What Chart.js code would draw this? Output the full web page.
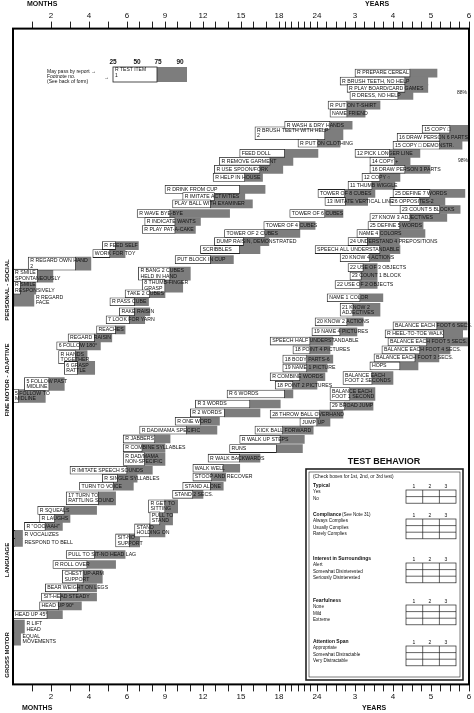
<!DOCTYPE html>
<html><head><meta charset="utf-8">
<script src="https://cdn.jsdelivr.net/npm/chart.js@4"></script>
<style>html,body{margin:0;padding:0;background:#fff}#wrap{width:474px;height:713px;position:relative}</style>
</head><body><div id="wrap"><canvas id="c"></canvas></div>
<script>
// Item labels (Denver II), row position (half-row grid), ages in months at 25%, 75%, 90% pass
const itemLabels = [
"R PREPARE CEREAL","R BRUSH TEETH, NO HELP","R PLAY BOARD/CARD GAMES","R DRESS, NO HELP","R PUT ON T-SHIRT","NAME FRIEND","R WASH & DRY HANDS","R BRUSH TEETH WITH HELP\n2","R PUT ON CLOTHING","FEED DOLL","R REMOVE GARMENT","R USE SPOON/FORK","R HELP IN HOUSE","R DRINK FROM CUP","R IMITATE ACTIVITIES","PLAY BALL WITH EXAMINER","R WAVE BYE-BYE","R INDICATE WANTS","R PLAY PAT-A-CAKE","R FEED SELF","WORK FOR TOY","R REGARD OWN HAND\n2","R SMILE\nSPONTANEOUSLY","R SMILE\nRESPONSIVELY","R REGARD\nFACE",
"15 COPY \u25A1","16 DRAW PERSON 6 PARTS","15 COPY \u25A1 DEMONSTR.","12 PICK LONGER LINE","14 COPY +","16 DRAW PERSON 3 PARTS","12 COPY \u25CB","11 THUMB WIGGLE","TOWER OF 8 CUBES","13 IMITATE VERTICAL LINE","TOWER OF 6 CUBES","TOWER OF 4 CUBES","TOWER OF 2 CUBES","DUMP RAISIN, DEMONSTRATED","SCRIBBLES","PUT BLOCK IN CUP","R BANG 2 CUBES\nHELD IN HAND","8 THUMB-FINGER\nGRASP","TAKE 2 CUBES","R PASS CUBE","RAKE RAISIN","7 LOOK FOR YARN","REACHES","REGARD RAISIN","6 FOLLOW 180\u00B0","R HANDS\nTOGETHER","6 GRASP\nRATTLE","5 FOLLOW PAST\nMIDLINE","5 FOLLOW TO\nMIDLINE",
"25 DEFINE 7 WORDS","26 OPPOSITES-2","23 COUNT 5 BLOCKS","27 KNOW 3 ADJECTIVES","25 DEFINE 5 WORDS","NAME 4 COLORS","24 UNDERSTAND 4 PREPOSITIONS","SPEECH ALL UNDERSTANDABLE","20 KNOW 4 ACTIONS","22 USE OF 3 OBJECTS","23 COUNT 1 BLOCK","22 USE OF 2 OBJECTS","NAME 1 COLOR","21 KNOW 2\nADJECTIVES","20 KNOW 2 ACTIONS","19 NAME 4 PICTURES","SPEECH HALF UNDERSTANDABLE","18 POINT 4 PICTURES","18 BODY PARTS-6","19 NAME 1 PICTURE","R COMBINE WORDS","18 POINT 2 PICTURES","R 6 WORDS","R 3 WORDS","R 2 WORDS","R ONE WORD","R DAD/MAMA SPECIFIC","R JABBERS","R COMBINE SYLLABLES","R DAD/MAMA\nNON-SPECIFIC","R IMITATE SPEECH SOUNDS","R SINGLE SYLLABLES","TURN TO VOICE","17 TURN TO\nRATTLING SOUND","R SQUEALS","R LAUGHS","R \"OOO/AAH\"","R VOCALIZES","RESPOND TO BELL",
"BALANCE EACH FOOT 6 SECS.","R HEEL-TO-TOE WALK","BALANCE EACH FOOT 5 SECS.","BALANCE EACH FOOT 4 SECS.","BALANCE EACH FOOT 3 SECS.","HOPS","BALANCE EACH\nFOOT 2 SECONDS","BALANCE EACH\nFOOT 1 SECOND","29 BROAD JUMP","28 THROW BALL OVERHAND","JUMP UP","KICK BALL FORWARD","R WALK UP STEPS","RUNS","R WALK BACKWARDS","WALK WELL","STOOP AND RECOVER","STAND ALONE","STAND 2 SECS.","R GET TO\nSITTING","PULL TO\nSTAND","STAND\nHOLDING ON","SIT-NO\nSUPPORT","PULL TO SIT-NO HEAD LAG","R ROLL OVER","CHEST UP-ARM\nSUPPORT","BEAR WEIGHT ON LEGS","SIT-HEAD STEADY","HEAD UP 90\u00B0","HEAD UP 45\u00B0","R LIFT\nHEAD","EQUAL\nMOVEMENTS"];
const itemRows = [2,4,5.8,7.6,10,12,15,17,19.5,22,24,26,28,31,32.8,34.6,37,39,41,45,47,49.5,52.5,55.5,58.5,
16,18,20,22,24,26,28,30,32,34,37,40,42,44,46,48.5,52,55,57,59,61.5,63.5,66,68,70,72.8,75.5,79.5,82.5,
32,34,36,38,40,42,44,46,48,50.5,52.6,54.7,58,61,64,66.5,68.8,71,73.3,75.5,77.7,79.8,82,84.5,86.7,88.8,91,93.2,95.4,98.2,101,103,105,108,111,113,115,117,119,
65,67,69,71,73,75,78,82,85,87,89,91,93.3,95.6,98,100.5,102.7,105,107,110,113,116,118.5,122,124.5,127.5,130.3,132.6,134.8,137,140,143];
const age25 = [36,31.3,33.5,34.4,27.5,28.1,18.9,16.1,21,14.9,13.3,12.9,12.8,9,10.4,9.6,6.8,7.4,7.2,4.7,4.2,0.8,0,0,0,
57.2,49.3,48,36,40.7,40.7,38.2,33.8,24.3,26.5,19.7,16.8,13.7,12.9,11.8,9.8,6.9,7.2,5.9,5.1,5.6,4.9,4.4,2.9,2.3,2.4,2.7,0.6,0,
48,47,50.2,40.7,40.1,36.6,33.8,23.7,31.3,33.8,34.4,29.7,27.2,31.3,23.7,23.2,17.3,20.2,18.6,18.6,17.3,17.7,13.9,11.4,11,9.8,7,5.8,5.8,5.8,3,4.7,3.5,2.8,1.3,1.4,0.6,0,0,
48,45.5,46.4,44.5,42,40.7,32.2,28.1,28.1,17.3,21.3,16.1,14.9,14.1,12.4,11.2,11.2,10.4,9.6,7.7,7.8,6.6,5.4,2.8,2.1,2.6,1.7,1.5,1.4,0,0,0];
const age75 = [53.4,51.8,51.8,49.6,33.5,33.5,28.1,26.5,24.3,18.9,17.3,16.5,15.3,14.9,12.9,12.6,9.4,9.8,9.8,5.4,5.1,3.3,1.3,0.4,0.05,
66,62.8,62.8,47,48.6,51.8,43.9,41.4,32.8,33,26.5,21.3,16.9,15.2,14.9,12.6,9.4,9,7.8,6.6,6.6,6.2,5.4,4.3,3.5,3.3,3.4,1.9,0.3,
59.7,56.5,62.8,53.4,50.2,43.9,40,43.9,40.7,38.6,38,37.6,37.6,35.4,33.5,31.3,22.9,22.9,22.4,22.4,21.3,20.2,18.9,15.7,13.7,11.8,10.7,8.2,7.2,7.4,6,5.5,5.3,4.5,2.7,2.2,1.7,0.1,0.1,
61.9,64,58.7,56.5,55,50.2,41.4,34.4,32.8,24.9,24,18.6,18.2,17.8,14.9,13.6,12.7,12.6,11.2,9,8.6,7.8,6.2,4.3,3.9,3.7,3.4,2.5,2.4,1.8,0.05,0.05];
const age90 = [61.9,59,59,54.3,43.9,39.2,35.1,32.2,31.3,24.3,20.2,18.6,16.7,16.9,15.3,15.9,14.1,11.8,11.4,6.9,5.9,4.1,2.1,1.2,1.1,
72,72,69.8,56.5,53.4,59.7,50.2,48.6,42.3,40,32.2,23.7,21.3,17.2,16.5,14.4,11,10.4,9,7.7,7.8,7.4,5.9,5.2,4.6,3.9,4.3,2.7,1.7,
70.7,64.4,69.2,65,57.5,58.1,50,50.2,47,43,43,43,44.8,43.9,38.6,36.6,29,28.1,29,27.2,26.5,24,20.2,18.2,16.5,13.3,13.1,9.4,9,9,8,6.8,6.5,5.4,4.4,3,2.6,0.5,0.5,
71.4,70,72,66,62.5,55.9,48,42.3,41.7,32.2,28.1,23.4,22,21.7,16.5,14.9,13.8,13.6,12,10,9.6,9,7,5.9,5.4,4.7,4.4,4.4,3.6,2.6,0.6,0.4];
const itemLines = itemLabels.map(s => s.includes("\n") ? 2 : 1);

const tickAges = [1,2,3,4,5,6,7,8,9,10,11,12,13,14,15,16,17,18,19,20,21,22,23,24,27,30,33,36,39,42,45,48,51,54,57,60,63,66,69,72];
const tickLabels = {2:"2",4:"4",6:"6",9:"9",12:"12",15:"15",18:"18",24:"24",36:"3",48:"4",60:"5",72:"6"};
const sectionNames = ["PERSONAL - SOCIAL","FINE MOTOR - ADAPTIVE","LANGUAGE","GROSS MOTOR"];

// piecewise age scale of the form
const knotsAge = [0,2,4,6,9,12,15,18,24,36,48,60,72];
function toU(a){for(let i=0;i<knotsAge.length-1;i++){if(a<=knotsAge[i+1]){return (i-1)+(a-knotsAge[i])/(knotsAge[i+1]-knotsAge[i]);}}return 11;}

function ds(lines, lo, hi, white){
  const d=[];
  itemLabels.forEach((l,i)=>{ if(itemLines[i]===lines){ d.push({x:[toU(lo[i]),toU(hi[i])], y:itemRows[i], i}); } });
  return {data:d, grouped:false, backgroundColor: white?'#fff':'#7d7d7d', borderColor: white?'#222':'#7d7d7d', borderWidth: white?0.8:0, borderSkipped:false, barThickness: lines===1?8:13, order: white?1:2};
}
const datasets=[ds(1,age75,age90,false),ds(2,age75,age90,false),ds(1,age25,age75,true),ds(2,age25,age75,true)];

const FONT='"Liberation Sans Narrow","Liberation Sans",Arial,sans-serif';
const deco={id:'deco',afterDatasetsDraw(ch){
  const c=ch.ctx,xs=ch.scales.x,ys=ch.scales.y,a=ch.chartArea;
  c.save();
  c.fillStyle='#111';c.textBaseline='middle';c.font='5.2px '+FONT;
  itemLabels.forEach((l,i)=>{
    let x=xs.getPixelForValue(toU(age25[i]))+2;
    if(age75[i]-age25[i]<0.3) x=xs.getPixelForValue(toU(age90[i]))+2;
    const y=ys.getPixelForValue(itemRows[i]); const parts=l.split("\n");
    parts.forEach((p,k)=>c.fillText(p,x,y+(k-(parts.length-1)/2)*5.3));
  });
  // frame
  c.strokeStyle='#000';c.lineWidth=2;c.strokeRect(a.left,a.top,a.right-a.left,a.bottom-a.top);
  // axis titles
  c.font='bold 7px '+FONT;c.textBaseline='alphabetic';
  c.fillText('MONTHS',27,6);c.fillText('YEARS',365,6);
  c.fillText('MONTHS',22,710);c.fillText('YEARS',362,710);
  // section titles
  c.font='bold 6px '+FONT;c.textAlign='center';
  [[290,sectionNames[0]],[380,sectionNames[1]],[560,sectionNames[2]],[655,sectionNames[3]]].forEach(([y,t])=>{c.save();c.translate(7,y);c.rotate(-Math.PI/2);c.fillText(t,0,2);c.restore();});
  // percent notes
  c.font='5px '+FONT;c.fillText('88%',462,94);c.fillText('98%',463,162);
  // legend
  c.font='bold 6.5px '+FONT;
  [['25',113],['50',137],['75',158],['90',180]].forEach(([t,x])=>c.fillText(t,x,64));
  c.textAlign='left';c.font='5px '+FONT;
  c.fillText('May pass by report \u2192',47,73);c.fillText('Footnote no.',47,78);c.fillText('\u2192',104,79);c.fillText('(See back of form)',47,83);
  c.fillStyle='#7d7d7d';c.fillRect(157,67,30,15);c.strokeStyle='#222';c.lineWidth=0.8;c.fillStyle='#fff';c.fillRect(113,67,44,15);c.strokeRect(113,67,44,15);
  c.fillStyle='#111';c.fillText('R TEST ITEM',115,71);c.fillText('1',115,77);
  // test behavior
  c.textAlign='center';c.font='bold 9px '+FONT;c.fillText('TEST BEHAVIOR',384,464);
  c.fillStyle='#fff';c.fillRect(306,469,157,211);c.fillStyle='#111';
  c.lineWidth=1.6;c.strokeRect(306,469,157,211);c.lineWidth=0.6;c.strokeRect(309,472,151,205);
  c.textAlign='left';c.font='4.8px '+FONT;c.fillText('(Check boxes for 1st, 2nd, or 3rd test)',313,478);
  const groups=[['Typical',['Yes','No'],487],['Compliance',['Always Complies','Usually Complies','Rarely Complies'],516],['Interest in Surroundings',['Alert','Somewhat Disinterested','Seriously Disinterested'],560],['Fearfulness',['None','Mild','Extreme'],602],['Attention Span',['Appropriate','Somewhat Distractable','Very Distractable'],643]];
  groups.forEach(([h,rows,y])=>{
    c.font='bold 5px '+FONT;c.fillText(h,313,y);
    if(h==='Compliance'){c.font='4.6px '+FONT;c.fillText('(See Note 31)',342,y);}
    c.font='4.6px '+FONT;rows.forEach((r,k)=>c.fillText(r,313,y+6+k*6.6));
    c.font='5px '+FONT;c.textAlign='center';['1','2','3'].forEach((n,k)=>c.fillText(n,414+k*16,y+1));c.textAlign='left';
    c.lineWidth=0.7;const gh=rows.length*6.6;c.strokeRect(406,y+3,50,gh);
    for(let k=1;k<3;k++){c.beginPath();c.moveTo(406+k*16.7,y+3);c.lineTo(406+k*16.7,y+3+gh);c.stroke();}
    for(let k=1;k<rows.length;k++){c.beginPath();c.moveTo(406,y+3+k*6.6);c.lineTo(456,y+3+k*6.6);c.stroke();}
  });
  c.restore();
}};

function axisCfg(pos){return {type:'linear',position:pos,min:-1,max:11,
  afterBuildTicks(ax){ax.ticks=tickAges.map(a=>({value:toU(a)}));},
  ticks:{autoSkip:false,maxRotation:0,padding:1,font:{size:8,family:'Liberation Sans'},color:'#111',callback:(v,i)=>tickLabels[tickAges[i]]||''},
  grid:{drawOnChartArea:false,tickLength:7,color:'#222',lineWidth:1},border:{display:false}};}

new Chart(document.getElementById('c'),{type:'bar',data:{datasets},
 options:{responsive:true,maintainAspectRatio:false,animation:false,indexAxis:'y',
  layout:{padding:{left:13,right:5,top:10,bottom:10}},
  plugins:{legend:{display:false},tooltip:{enabled:false}},
  scales:{x:axisCfg('top'),x2:axisCfg('bottom'),
   y:{type:'linear',min:0,max:145.3,reverse:true,display:false}}},
 plugins:[deco]});
</script></body></html>
